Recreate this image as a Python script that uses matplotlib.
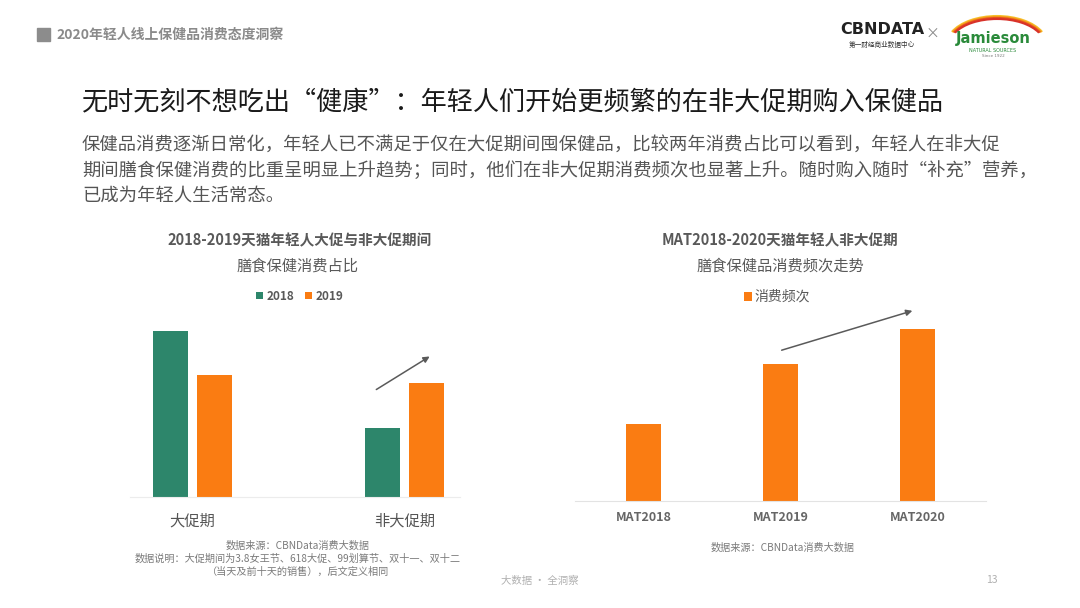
import matplotlib
matplotlib.use("Agg")
import matplotlib.pyplot as plt
from matplotlib.patches import Rectangle, Arc

plt.rcParams['font.family'] = ['Noto Sans CJK SC', 'DejaVu Sans']

# ---------------- data ----------------
left_categories = ["大促期", "非大促期"]
left_series_names = ["2018", "2019"]
left_2018 = [16.6, 6.9]
left_2019 = [12.2, 11.4]

right_categories = ["MAT2018", "MAT2019", "MAT2020"]
right_series_name = "消费频次"
right_values = [7.7, 13.7, 17.2]

GREEN = "#2d866b"
ORANGE = "#fa7c12"
GRAY = "#595959"

W, H = 1080, 608
fig = plt.figure(figsize=(W / 100, H / 100), dpi=100)
fig.patch.set_facecolor("white")


def P(x, y):
    return x / W, 1 - y / H


def ftext(x, y, s, **kw):
    kw.setdefault("va", "center")
    fig.text(*P(x, y), s, **kw)


# ---------------- header ----------------
fig.patches.append(Rectangle(P(37, 41), 13 / W, 13 / H, transform=fig.transFigure,
                             color="#8c8c8c", zorder=5))
ftext(56, 35, "2020年轻人线上保健品消费态度洞察", fontsize=10, color="#8a8a8a",
      fontweight="bold")

# logos (text approximations)
ftext(882, 30, "CBNDATA", fontsize=11.5, fontweight="bold", color="#222222",
      ha="center", family=["DejaVu Sans"])
ftext(882, 45, "第一财经商业数据中心", fontsize=4.8, color="#333333", ha="center")
ftext(932, 34, "×", fontsize=10, color="#888888", ha="center")
ax_logo = fig.add_axes([940 / W, 1 - 62 / H, 110 / W, 52 / H])
ax_logo.set_xlim(0, 110)
ax_logo.set_ylim(0, 52)
ax_logo.axis("off")
for i, c in enumerate(["#f7c12a", "#f39a1d", "#e8541c", "#d8322a"]):
    ax_logo.add_patch(Arc((57, 18), 100 - i * 2, 56 - i * 2, theta1=15, theta2=165,
                          color=c, lw=1.5))
ax_logo.text(53, 23, "Jamieson", fontsize=10.5, fontweight="bold", color="#2a8a3a",
             ha="center", va="center", family=["DejaVu Sans"])
ax_logo.text(53, 12, "NATURAL SOURCES", fontsize=3.5, color="#2a8a3a", ha="center",
             va="center", family=["DejaVu Sans"])
ax_logo.text(53, 6, "Since 1922", fontsize=3, color="#7a7a7a", ha="center",
             va="center", family=["DejaVu Sans"])

# ---------------- title & body ----------------
ftext(82, 103, "无时无刻不想吃出“健康”：年轻人们开始更频繁的在非大促期购入保健品",
      fontsize=18.8, color="#1a1a1a")
body = [
    "保健品消费逐渐日常化，年轻人已不满足于仅在大促期间囤保健品，比较两年消费占比可以看到，年轻人在非大促",
    "期间膳食保健消费的比重呈明显上升趋势；同时，他们在非大促期消费频次也显著上升。随时购入随时“补充”营养，",
    "已成为年轻人生活常态。",
]
for i, line in enumerate(body):
    ftext(82, 146 + i * 25, line, fontsize=13.2, color="#555555")

# ---------------- left chart ----------------
axL = fig.add_axes([130 / W, (H - 497) / H, 330 / W, 197 / H])
xl = list(range(len(left_categories)))
bw = 0.165
off = 0.105
b1 = axL.bar([x - off for x in xl], left_2018, width=bw, color=GREEN,
             label=left_series_names[0])
b2 = axL.bar([x + off for x in xl], left_2019, width=bw, color=ORANGE,
             label=left_series_names[1])
axL.set_xlim(-0.295, 1.262)
axL.set_ylim(0, 19.7)
axL.set_yticks([])
axL.set_xticks(xl)
axL.set_xticklabels(left_categories, fontsize=11, color="#555555")
axL.tick_params(axis="x", length=0, pad=11)
for s in ["top", "right", "left"]:
    axL.spines[s].set_visible(False)
axL.spines["bottom"].set_color("#ececec")
axL.patch.set_alpha(0)
axL.annotate("", xy=(1.13, 14.2), xytext=(0.856, 10.6),
             arrowprops=dict(arrowstyle="-|>", color="#5a5a5a", lw=1.1,
                             mutation_scale=9))
legL = fig.legend(handles=[b1, b2], loc="center", bbox_to_anchor=P(300, 296),
                  ncol=2, frameon=False, handlelength=0.6, handleheight=0.6,
                  handletextpad=0.3, columnspacing=0.9,
                  prop={"size": 8.5, "weight": "bold"})
for t in legL.get_texts():
    t.set_color(GRAY)

ftext(300, 240, "2018-2019天猫年轻人大促与非大促期间", fontsize=10.5,
      fontweight="bold", color=GRAY, ha="center")
ftext(298, 266, "膳食保健消费占比", fontsize=11, color=GRAY, ha="center")
ftext(298, 546, "数据来源：CBNData消费大数据", fontsize=7.3, color="#7a7a7a", ha="center")
ftext(298, 559, "数据说明：大促期间为3.8女王节、618大促、99划算节、双十一、双十二",
      fontsize=7.3, color="#7a7a7a", ha="center")
ftext(298, 572, "（当天及前十天的销售），后文定义相同", fontsize=7.3,
      color="#7a7a7a", ha="center")

# ---------------- right chart ----------------
axR = fig.add_axes([575 / W, (H - 501) / H, 411 / W, 201 / H])
xr = list(range(len(right_categories)))
b3 = axR.bar(xr, right_values, width=0.26, color=ORANGE, label=right_series_name)
axR.set_xlim(-0.5, 2.5)
axR.set_ylim(0, 20.1)
axR.set_yticks([])
axR.set_xticks(xr)
axR.set_xticklabels(right_categories, fontsize=9, fontweight="bold", color="#666666")
axR.tick_params(axis="x", length=0, pad=7)
for s in ["top", "right", "left"]:
    axR.spines[s].set_visible(False)
axR.spines["bottom"].set_color("#e3e3e3")
axR.patch.set_alpha(0)
axR.annotate("", xy=(1.982, 19.1), xytext=(0.989, 15.0),
             arrowprops=dict(arrowstyle="-|>", color="#5a5a5a", lw=1.1,
                             mutation_scale=9))
legR = fig.legend(handles=[b3], loc="center", bbox_to_anchor=P(777, 297),
                  frameon=False, handlelength=0.6, handleheight=0.6,
                  handletextpad=0.2, prop={"size": 10})
for t in legR.get_texts():
    t.set_color(GRAY)

ftext(780, 240, "MAT2018-2020天猫年轻人非大促期", fontsize=10.5,
      fontweight="bold", color=GRAY, ha="center")
ftext(780, 266, "膳食保健品消费频次走势", fontsize=11, color=GRAY, ha="center")
ftext(783, 548, "数据来源：CBNData消费大数据", fontsize=7.3, color="#7a7a7a", ha="center")

# ---------------- footer ----------------
ftext(540, 581, "大数据 · 全洞察", fontsize=7.5, color="#b0b0b0", ha="center")
ftext(992, 580, "13", fontsize=7.5, color="#b0b0b0", ha="center")

fig.savefig("out.png", dpi=100, facecolor="white")
